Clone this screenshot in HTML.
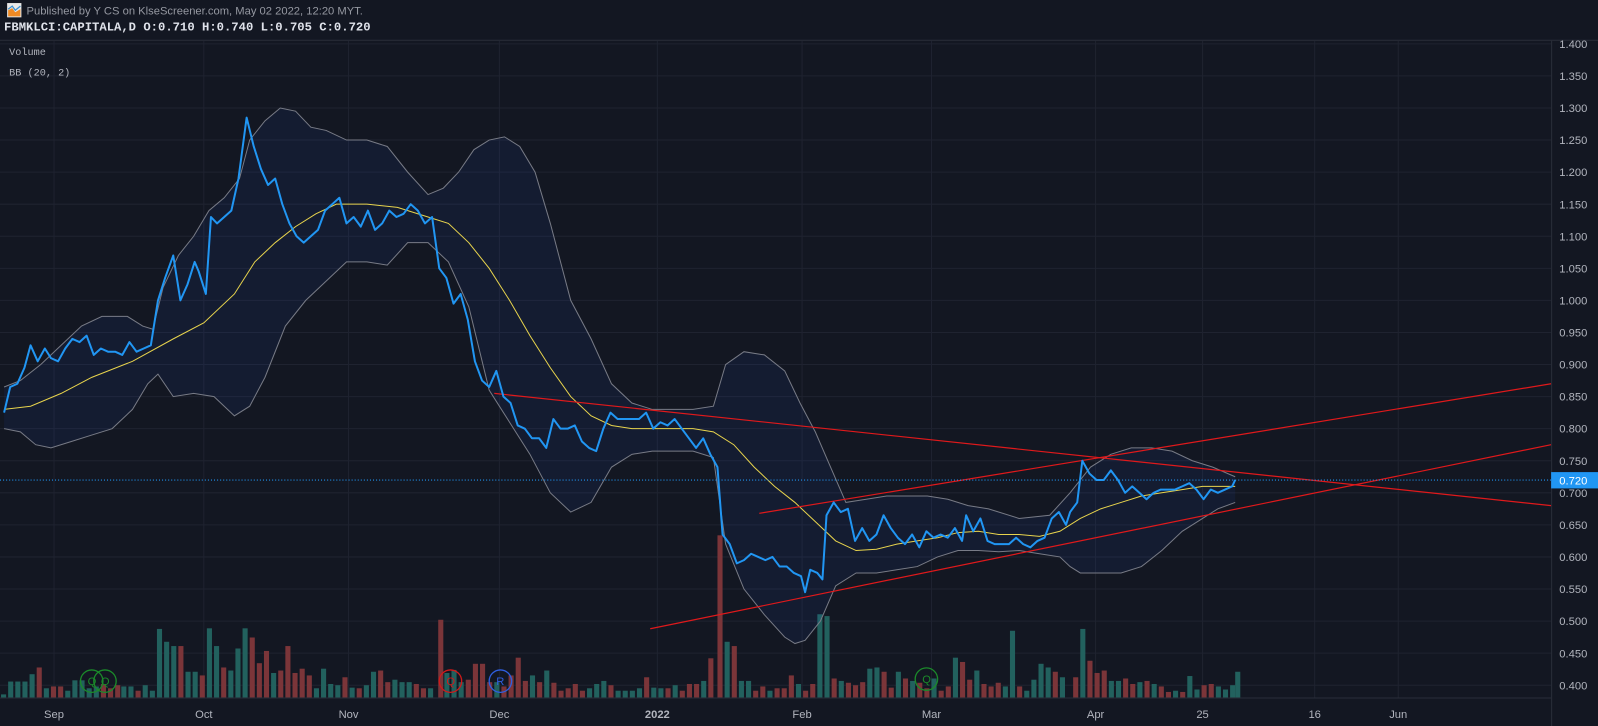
<!DOCTYPE html>
<html><head><meta charset="utf-8"><style>
html,body{margin:0;padding:0;background:#131722;overflow:hidden}
svg{display:block}
text{font-family:"Liberation Sans",sans-serif}
</style></head><body>
<svg width="1598" height="726" viewBox="0 0 1568 712" preserveAspectRatio="none" xmlns="http://www.w3.org/2000/svg">
<rect width="1568" height="712" fill="#131722"/>
<!-- header -->
<rect x="7" y="3" width="14" height="14" fill="#e8e8e8"/>
<polygon points="8,16 8,10 12,8 15,12 20,9 20,16" fill="#f08a24"/>
<polyline points="8,9 12,6 15,10 20,6" stroke="#3a8fd0" stroke-width="1.2" fill="none"/>
<text x="26" y="14" font-size="11" fill="#9598a1">Published by Y CS on KlseScreener.com, May 02 2022, 12:20 MYT.</text>
<text x="4" y="30" font-size="12" font-weight="bold" fill="#e0e3eb" style="font-family:'Liberation Mono',monospace">FBMKLCI:CAPITALA,D  O:0.710 H:0.740 L:0.705 C:0.720</text>
<line x1="0" y1="39.5" x2="1568" y2="39.5" stroke="#2a2e39"/>
<!-- grid -->
<g stroke="#1f2330" stroke-width="1">
<line x1="0" y1="43" x2="1522" y2="43"/><line x1="0" y1="74.45" x2="1522" y2="74.45"/><line x1="0" y1="105.9" x2="1522" y2="105.9"/><line x1="0" y1="137.35" x2="1522" y2="137.35"/><line x1="0" y1="168.8" x2="1522" y2="168.8"/><line x1="0" y1="200.25" x2="1522" y2="200.25"/><line x1="0" y1="231.7" x2="1522" y2="231.7"/><line x1="0" y1="263.15" x2="1522" y2="263.15"/><line x1="0" y1="294.6" x2="1522" y2="294.6"/><line x1="0" y1="326.05" x2="1522" y2="326.05"/><line x1="0" y1="357.5" x2="1522" y2="357.5"/><line x1="0" y1="388.95" x2="1522" y2="388.95"/><line x1="0" y1="420.4" x2="1522" y2="420.4"/><line x1="0" y1="451.85" x2="1522" y2="451.85"/><line x1="0" y1="483.3" x2="1522" y2="483.3"/><line x1="0" y1="514.75" x2="1522" y2="514.75"/><line x1="0" y1="546.2" x2="1522" y2="546.2"/><line x1="0" y1="577.65" x2="1522" y2="577.65"/><line x1="0" y1="609.1" x2="1522" y2="609.1"/><line x1="0" y1="640.55" x2="1522" y2="640.55"/><line x1="0" y1="672" x2="1522" y2="672"/>
<line x1="53" y1="40" x2="53" y2="684"/><line x1="200" y1="40" x2="200" y2="684"/><line x1="342" y1="40" x2="342" y2="684"/><line x1="490" y1="40" x2="490" y2="684"/><line x1="645" y1="40" x2="645" y2="684"/><line x1="787" y1="40" x2="787" y2="684"/><line x1="914" y1="40" x2="914" y2="684"/><line x1="1075" y1="40" x2="1075" y2="684"/><line x1="1180" y1="40" x2="1180" y2="684"/><line x1="1290" y1="40" x2="1290" y2="684"/><line x1="1372" y1="40" x2="1372" y2="684"/>
</g>
<text x="9" y="54" font-size="10" fill="#b2b5be" style="font-family:'Liberation Mono',monospace">Volume</text>
<text x="9" y="74" font-size="10" fill="#b2b5be" style="font-family:'Liberation Mono',monospace">BB (20, 2)</text>
<!-- volume -->
<g transform="translate(0,684) scale(1,-0.6)">
<g fill="#22615e">
<rect x="1" width="5" height="5"/><rect x="8" width="5" height="26"/><rect x="15" width="5" height="26"/><rect x="22" width="5" height="26"/><rect x="29" width="5" height="38"/><rect x="43" width="5" height="15"/><rect x="64" width="5" height="11"/><rect x="71" width="5" height="28"/><rect x="78" width="5" height="28"/><rect x="85" width="5" height="15"/><rect x="92" width="5" height="18"/><rect x="119" width="5" height="18"/><rect x="126" width="5" height="18"/><rect x="140" width="5" height="20"/><rect x="147" width="5" height="11"/><rect x="154" width="5" height="112"/><rect x="161" width="5" height="91"/><rect x="168" width="5" height="84"/><rect x="182" width="5" height="42"/><rect x="189" width="5" height="42"/><rect x="203" width="5" height="113"/><rect x="210" width="5" height="84"/><rect x="224" width="5" height="44"/><rect x="231" width="5" height="80"/><rect x="238" width="5" height="113"/><rect x="266" width="5" height="40"/><rect x="308" width="5" height="15"/><rect x="315" width="5" height="47"/><rect x="322" width="5" height="22"/><rect x="329" width="5" height="20"/><rect x="343" width="5" height="16"/><rect x="357" width="5" height="20"/><rect x="364" width="5" height="42"/><rect x="385" width="5" height="29"/><rect x="392" width="5" height="25"/><rect x="399" width="5" height="25"/><rect x="420" width="5" height="15"/><rect x="436" width="5" height="40"/><rect x="443" width="5" height="45"/><rect x="450" width="5" height="25"/><rect x="485" width="5" height="25"/><rect x="520" width="5" height="36"/><rect x="534" width="5" height="44"/><rect x="576" width="5" height="15"/><rect x="583" width="5" height="22"/><rect x="590" width="5" height="27"/><rect x="604" width="5" height="11"/><rect x="611" width="5" height="11"/><rect x="618" width="5" height="11"/><rect x="625" width="5" height="15"/><rect x="639" width="5" height="16"/><rect x="646" width="5" height="15"/><rect x="660" width="5" height="20"/><rect x="688" width="5" height="27"/><rect x="711" width="5" height="91"/><rect x="725" width="5" height="27"/><rect x="732" width="5" height="27"/><rect x="753" width="5" height="11"/><rect x="781" width="5" height="22"/><rect x="802" width="5" height="136"/><rect x="809" width="5" height="133"/><rect x="823" width="5" height="27"/><rect x="851" width="5" height="47"/><rect x="858" width="5" height="49"/><rect x="879" width="5" height="42"/><rect x="893" width="5" height="27"/><rect x="914" width="5" height="31"/><rect x="935" width="5" height="65"/><rect x="956" width="5" height="44"/><rect x="984" width="5" height="18"/><rect x="991" width="5" height="109"/><rect x="1005" width="5" height="11"/><rect x="1012" width="5" height="29"/><rect x="1019" width="5" height="55"/><rect x="1026" width="5" height="49"/><rect x="1040" width="5" height="33"/><rect x="1060" width="5" height="112"/><rect x="1088" width="5" height="27"/><rect x="1095" width="5" height="27"/><rect x="1116" width="5" height="25"/><rect x="1130" width="5" height="22"/><rect x="1151" width="5" height="11"/><rect x="1165" width="5" height="35"/><rect x="1172" width="5" height="13"/><rect x="1193" width="5" height="18"/><rect x="1200" width="5" height="13"/><rect x="1207" width="5" height="20"/><rect x="1212" width="5" height="42"/>
</g>
<g fill="#7b3539">
<rect x="36" width="5" height="49"/><rect x="50" width="5" height="18"/><rect x="57" width="5" height="18"/><rect x="99" width="5" height="22"/><rect x="106" width="5" height="15"/><rect x="113" width="5" height="20"/><rect x="133" width="5" height="11"/><rect x="175" width="5" height="84"/><rect x="196" width="5" height="36"/><rect x="217" width="5" height="49"/><rect x="245" width="5" height="98"/><rect x="252" width="5" height="56"/><rect x="259" width="5" height="76"/><rect x="273" width="5" height="44"/><rect x="280" width="5" height="84"/><rect x="287" width="5" height="40"/><rect x="294" width="5" height="47"/><rect x="301" width="5" height="36"/><rect x="336" width="5" height="33"/><rect x="350" width="5" height="15"/><rect x="371" width="5" height="44"/><rect x="378" width="5" height="25"/><rect x="406" width="5" height="22"/><rect x="413" width="5" height="15"/><rect x="430" width="5" height="127"/><rect x="457" width="5" height="29"/><rect x="464" width="5" height="55"/><rect x="471" width="5" height="55"/><rect x="478" width="5" height="25"/><rect x="492" width="5" height="18"/><rect x="499" width="5" height="36"/><rect x="506" width="5" height="65"/><rect x="513" width="5" height="27"/><rect x="527" width="5" height="25"/><rect x="541" width="5" height="24"/><rect x="548" width="5" height="11"/><rect x="555" width="5" height="15"/><rect x="562" width="5" height="22"/><rect x="569" width="5" height="11"/><rect x="597" width="5" height="20"/><rect x="632" width="5" height="33"/><rect x="653" width="5" height="15"/><rect x="667" width="5" height="11"/><rect x="674" width="5" height="22"/><rect x="681" width="5" height="22"/><rect x="695" width="5" height="64"/><rect x="704" width="5" height="265"/><rect x="718" width="5" height="84"/><rect x="739" width="5" height="11"/><rect x="746" width="5" height="18"/><rect x="760" width="5" height="15"/><rect x="767" width="5" height="15"/><rect x="774" width="5" height="36"/><rect x="788" width="5" height="11"/><rect x="795" width="5" height="22"/><rect x="816" width="5" height="31"/><rect x="830" width="5" height="24"/><rect x="837" width="5" height="20"/><rect x="844" width="5" height="25"/><rect x="865" width="5" height="42"/><rect x="872" width="5" height="16"/><rect x="886" width="5" height="31"/><rect x="900" width="5" height="24"/><rect x="907" width="5" height="15"/><rect x="921" width="5" height="11"/><rect x="928" width="5" height="18"/><rect x="942" width="5" height="58"/><rect x="949" width="5" height="29"/><rect x="963" width="5" height="22"/><rect x="970" width="5" height="18"/><rect x="977" width="5" height="24"/><rect x="998" width="5" height="18"/><rect x="1033" width="5" height="42"/><rect x="1053" width="5" height="33"/><rect x="1067" width="5" height="60"/><rect x="1074" width="5" height="40"/><rect x="1081" width="5" height="44"/><rect x="1102" width="5" height="31"/><rect x="1109" width="5" height="22"/><rect x="1123" width="5" height="27"/><rect x="1137" width="5" height="18"/><rect x="1144" width="5" height="9"/><rect x="1158" width="5" height="9"/><rect x="1179" width="5" height="20"/><rect x="1186" width="5" height="22"/>
</g>
</g>
<!-- markers -->
<g fill="none" stroke-width="1.3" font-size="10">
<circle cx="90" cy="668" r="11" stroke="#1b8a2a"/><circle cx="103" cy="668" r="11" stroke="#1b8a2a"/>
<circle cx="442" cy="668" r="11" stroke="#d01a1a"/><circle cx="491" cy="668" r="11" stroke="#2f5fe0"/>
<circle cx="909" cy="666" r="11" stroke="#1b8a2a"/>
</g>
<text x="86" y="672" font-size="11" fill="#1b8a2a">Q</text><text x="99" y="672" font-size="11" fill="#1b8a2a">Q</text>
<text x="438" y="672" font-size="11" fill="#d01a1a">Q</text><text x="487" y="672" font-size="11" fill="#2f5fe0">R</text>
<text x="905" y="670" font-size="11" fill="#1b8a2a">Q</text>
<!-- price-space group: y = 923.6 - 629p -->
<g transform="matrix(1,0,0,-629,0,923.6)">
<polygon fill="#2962ff" fill-opacity="0.07" points="4,0.865 20,0.875 40,0.9 60,0.93 80,0.96 100,0.975 125,0.975 140,0.96 150,0.955 160,1.02 175,1.07 190,1.1 205,1.14 220,1.16 235,1.19 245,1.25 260,1.28 275,1.3 290,1.295 305,1.27 320,1.265 340,1.25 360,1.25 380,1.24 400,1.2 420,1.165 435,1.175 450,1.2 465,1.235 480,1.25 495,1.255 510,1.24 525,1.2 540,1.12 560,1.0 580,0.94 600,0.87 620,0.84 640,0.83 660,0.83 680,0.83 700,0.835 712,0.9 730,0.92 750,0.915 770,0.89 785,0.84 800,0.795 815,0.74 830,0.685 850,0.69 870,0.695 890,0.695 910,0.695 930,0.69 950,0.68 970,0.675 1000,0.66 1030,0.665 1050,0.7 1070,0.74 1090,0.76 1110,0.77 1130,0.77 1150,0.765 1170,0.75 1190,0.74 1212,0.725 1212,0.685 1195,0.675 1180,0.66 1160,0.64 1140,0.61 1120,0.585 1100,0.575 1080,0.575 1060,0.575 1050,0.585 1040,0.6 1020,0.605 1000,0.61 980,0.608 960,0.61 940,0.61 920,0.6 900,0.585 880,0.58 860,0.575 840,0.575 820,0.555 805,0.5 790,0.47 780,0.465 770,0.475 750,0.51 730,0.55 712,0.62 700,0.755 680,0.765 660,0.765 640,0.765 620,0.76 600,0.74 580,0.685 560,0.67 540,0.7 520,0.76 500,0.81 480,0.86 460,0.99 440,1.06 420,1.09 400,1.09 380,1.055 360,1.06 340,1.06 320,1.03 300,1.0 280,0.96 260,0.88 245,0.835 230,0.82 210,0.85 190,0.855 170,0.85 155,0.885 145,0.87 130,0.83 110,0.8 90,0.79 70,0.78 50,0.77 35,0.775 20,0.795 4,0.8"/>
<polyline fill="none" stroke="#787b86" stroke-width="1" vector-effect="non-scaling-stroke" points="4,0.865 20,0.875 40,0.9 60,0.93 80,0.96 100,0.975 125,0.975 140,0.96 150,0.955 160,1.02 175,1.07 190,1.1 205,1.14 220,1.16 235,1.19 245,1.25 260,1.28 275,1.3 290,1.295 305,1.27 320,1.265 340,1.25 360,1.25 380,1.24 400,1.2 420,1.165 435,1.175 450,1.2 465,1.235 480,1.25 495,1.255 510,1.24 525,1.2 540,1.12 560,1.0 580,0.94 600,0.87 620,0.84 640,0.83 660,0.83 680,0.83 700,0.835 712,0.9 730,0.92 750,0.915 770,0.89 785,0.84 800,0.795 815,0.74 830,0.685 850,0.69 870,0.695 890,0.695 910,0.695 930,0.69 950,0.68 970,0.675 1000,0.66 1030,0.665 1050,0.7 1070,0.74 1090,0.76 1110,0.77 1130,0.77 1150,0.765 1170,0.75 1190,0.74 1212,0.725"/>
<polyline fill="none" stroke="#787b86" stroke-width="1" vector-effect="non-scaling-stroke" points="4,0.8 20,0.795 35,0.775 50,0.77 70,0.78 90,0.79 110,0.8 130,0.83 145,0.87 155,0.885 170,0.85 190,0.855 210,0.85 230,0.82 245,0.835 260,0.88 280,0.96 300,1.0 320,1.03 340,1.06 360,1.06 380,1.055 400,1.09 420,1.09 440,1.06 460,0.99 480,0.86 500,0.81 520,0.76 540,0.7 560,0.67 580,0.685 600,0.74 620,0.76 640,0.765 660,0.765 680,0.765 700,0.755 712,0.62 730,0.55 750,0.51 770,0.475 780,0.465 790,0.47 805,0.5 820,0.555 840,0.575 860,0.575 880,0.58 900,0.585 920,0.6 940,0.61 960,0.61 980,0.608 1000,0.61 1020,0.605 1040,0.6 1050,0.585 1060,0.575 1080,0.575 1100,0.575 1120,0.585 1140,0.61 1160,0.64 1180,0.66 1195,0.675 1212,0.685"/>
<polyline fill="none" stroke="#e8d44d" stroke-width="1" vector-effect="non-scaling-stroke" points="4,0.83 30,0.835 60,0.855 90,0.88 130,0.905 170,0.94 200,0.965 230,1.01 250,1.06 270,1.09 290,1.115 310,1.135 330,1.15 360,1.15 390,1.145 420,1.13 440,1.12 460,1.09 480,1.05 500,1.0 520,0.945 540,0.895 560,0.85 580,0.82 600,0.805 620,0.8 650,0.8 680,0.8 700,0.795 720,0.775 740,0.74 760,0.71 780,0.685 800,0.655 820,0.625 840,0.61 860,0.612 880,0.62 900,0.625 920,0.63 940,0.638 960,0.64 980,0.635 1000,0.635 1020,0.632 1040,0.64 1060,0.66 1080,0.675 1100,0.685 1120,0.695 1140,0.7 1160,0.705 1180,0.71 1200,0.71 1212,0.71"/>
<g stroke="#e0191b" stroke-width="1.2" fill="none">
<line x1="485" y1="0.855" x2="1522" y2="0.68" vector-effect="non-scaling-stroke"/>
<line x1="745" y1="0.668" x2="1522" y2="0.87" vector-effect="non-scaling-stroke"/>
<line x1="638" y1="0.488" x2="1522" y2="0.775" vector-effect="non-scaling-stroke"/>
</g>
<polyline fill="none" stroke="#2196f3" stroke-width="2" stroke-linejoin="round" vector-effect="non-scaling-stroke" points="4,0.825 10,0.865 17,0.87 24,0.895 30,0.93 37,0.905 44,0.925 50,0.91 57,0.905 64,0.925 71,0.94 78,0.935 85,0.945 92,0.915 99,0.925 106,0.92 113,0.92 120,0.915 127,0.935 134,0.92 141,0.925 148,0.93 155,1.0 162,1.035 170,1.07 177,1.0 184,1.025 191,1.06 195,1.045 202,1.01 207,1.13 213,1.12 220,1.13 227,1.14 234,1.19 242,1.285 249,1.24 256,1.205 263,1.18 270,1.19 277,1.15 284,1.12 291,1.1 298,1.09 305,1.1 312,1.11 319,1.14 326,1.15 333,1.16 340,1.12 347,1.13 354,1.115 361,1.14 368,1.11 375,1.12 382,1.14 389,1.13 396,1.135 403,1.15 410,1.14 417,1.12 424,1.13 431,1.05 438,1.035 445,0.995 452,1.01 459,0.97 466,0.905 473,0.875 480,0.865 487,0.89 494,0.85 501,0.84 508,0.805 515,0.8 522,0.785 529,0.785 536,0.77 543,0.815 550,0.8 557,0.8 564,0.805 571,0.78 578,0.77 585,0.765 592,0.8 599,0.825 606,0.815 613,0.815 620,0.815 627,0.815 634,0.825 641,0.8 648,0.81 655,0.805 662,0.815 669,0.8 676,0.785 683,0.77 690,0.785 697,0.76 704,0.74 709,0.635 716,0.62 723,0.59 730,0.595 737,0.605 744,0.6 751,0.595 758,0.6 765,0.585 772,0.585 779,0.575 786,0.57 790,0.545 795,0.58 802,0.575 807,0.565 811,0.665 818,0.685 825,0.67 832,0.675 839,0.625 846,0.645 853,0.625 860,0.635 867,0.665 874,0.645 881,0.63 888,0.62 895,0.635 902,0.615 909,0.64 916,0.63 923,0.635 930,0.63 937,0.645 944,0.625 948,0.665 955,0.64 962,0.66 969,0.625 976,0.62 983,0.62 990,0.62 997,0.63 1004,0.62 1011,0.615 1018,0.625 1025,0.63 1032,0.66 1039,0.67 1046,0.65 1050,0.67 1057,0.685 1062,0.75 1069,0.73 1076,0.72 1083,0.72 1090,0.735 1097,0.72 1104,0.7 1111,0.71 1118,0.7 1125,0.69 1132,0.7 1139,0.705 1146,0.705 1153,0.705 1160,0.71 1167,0.715 1174,0.705 1181,0.69 1188,0.705 1195,0.7 1202,0.705 1209,0.71 1212,0.72"/>
</g>
<!-- last price line -->
<line x1="0" y1="470.8" x2="1522" y2="470.8" stroke="#2196f3" stroke-width="1" stroke-dasharray="1,2"/>
<!-- axes -->
<line x1="1522.5" y1="40" x2="1522.5" y2="712" stroke="#2a2e39"/>
<line x1="0" y1="684.5" x2="1522" y2="684.5" stroke="#2a2e39"/>
<g font-size="11" fill="#b2b5be">
<text x="1530" y="47">1.400</text><text x="1530" y="78.5">1.350</text><text x="1530" y="110">1.300</text><text x="1530" y="141.4">1.250</text><text x="1530" y="172.8">1.200</text><text x="1530" y="204.3">1.150</text><text x="1530" y="235.7">1.100</text><text x="1530" y="267.2">1.050</text><text x="1530" y="298.6">1.000</text><text x="1530" y="330.1">0.950</text><text x="1530" y="361.5">0.900</text><text x="1530" y="393">0.850</text><text x="1530" y="424.4">0.800</text><text x="1530" y="455.9">0.750</text><text x="1530" y="487.3">0.700</text><text x="1530" y="518.8">0.650</text><text x="1530" y="550.2">0.600</text><text x="1530" y="581.7">0.550</text><text x="1530" y="613.1">0.500</text><text x="1530" y="644.6">0.450</text><text x="1530" y="676">0.400</text>
</g>
<rect x="1522" y="463" width="46" height="16" fill="#2196f3"/>
<text x="1530" y="475" font-size="11" fill="#ffffff">0.720</text>
<g font-size="11" fill="#b2b5be" text-anchor="middle">
<text x="53" y="704">Sep</text><text x="200" y="704">Oct</text><text x="342" y="704">Nov</text><text x="490" y="704">Dec</text><text x="645" y="704" font-weight="bold">2022</text><text x="787" y="704">Feb</text><text x="914" y="704">Mar</text><text x="1075" y="704">Apr</text><text x="1180" y="704">25</text><text x="1290" y="704">16</text><text x="1372" y="704">Jun</text>
</g>
</svg>
</body></html>
